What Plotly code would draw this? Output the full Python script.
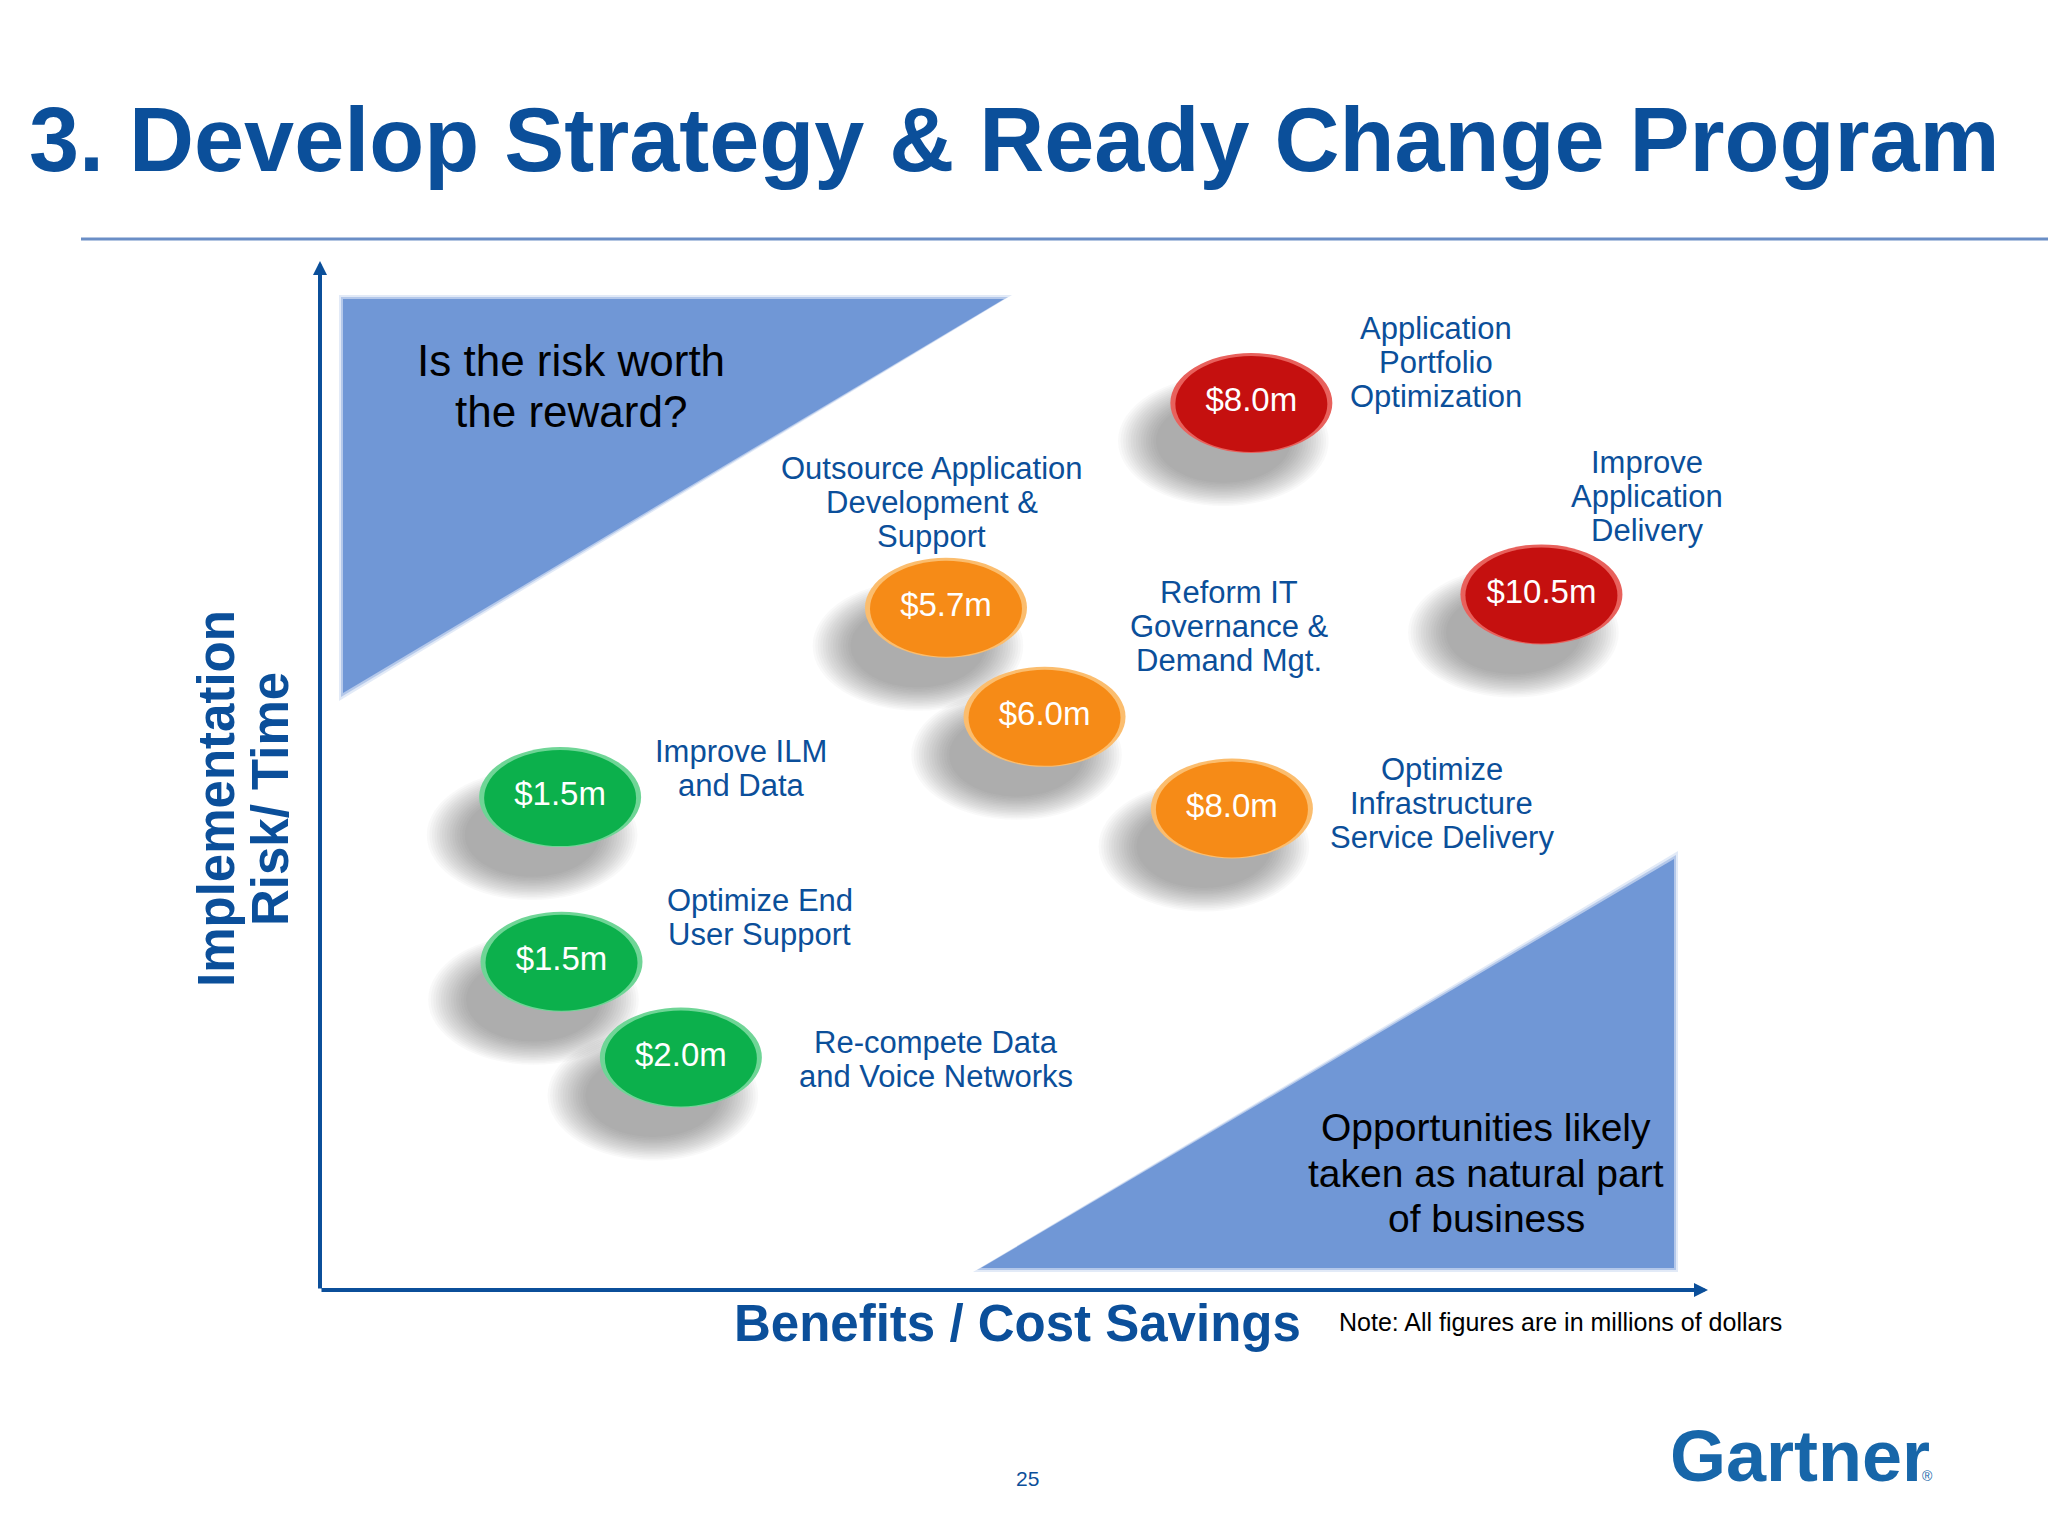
import plotly.graph_objects as go

# ---------------- data ----------------
initiatives = [
    "Application\nPortfolio\nOptimization",
    "Improve\nApplication\nDelivery",
    "Outsource Application\nDevelopment &\nSupport",
    "Reform IT\nGovernance &\nDemand Mgt.",
    "Optimize\nInfrastructure\nService Delivery",
    "Improve ILM\nand Data",
    "Optimize End\nUser Support",
    "Re-compete Data\nand Voice Networks",
]
savings_musd = [8.0, 10.5, 5.7, 6.0, 8.0, 1.5, 1.5, 2.0]
benefit_score = [6.71, 8.80, 4.51, 5.22, 6.57, 1.73, 1.74, 2.60]
risk_score = [8.62, 6.76, 6.63, 5.57, 4.68, 4.79, 3.19, 2.26]
risk_band = ["high", "high", "medium", "medium", "medium", "low", "low", "low"]

title_text = "3. Develop Strategy & Ready Change Program"
x_title = "Benefits / Cost Savings"
y_title_lines = ["Implementation", "Risk/ Time"]
note_text = "Note: All figures are in millions of dollars"
zone_top_text = ["Is the risk worth", "the reward?"]
zone_bottom_text = ["Opportunities likely", "taken as natural part", "of business"]
page_number = "25"
brand = "Gartner"

# ---------------- layout / style ----------------
W, H = 2048, 1536
L, R, T, B = 320, 1708, 261, 1290          # plot area (axis lines) in pixels
XMAX, YMAX = 10.0, 10.0
SX = (R - L) / XMAX
SY = (B - T) / YMAX
FONT = "Arial, 'Liberation Sans', sans-serif"
BLUE = "#0b4f9a"
ZONE = "#7097d6"

label_offset_px = [(185, -41), (106, -98), (-14, -105), (184, -90),
                   (210, -5), (181, -29), (198, -44), (255, 2)]
band_fill = {"high": "#c5100f", "medium": "#f68b17", "low": "#0cb04c"}
band_rim = {"high": "#e8615c", "medium": "#fbbd6e", "low": "#6fd596"}
RX, RY = 81, 50  # bubble half-size in px


def px2x(px):
    return (px - L) / SX


def py2y(py):
    return (B - py) / SY


def x2px(x):
    return L + x * SX


def y2py(y):
    return B - y * SY


def ppx(px):
    return (px - L) / (R - L)


def ppy(py):
    return (B - py) / (B - T)


fig = go.Figure()
shapes = []
annotations = []

# header rule
shapes.append(dict(type="line", xref="paper", yref="paper",
                   x0=ppx(81), x1=ppx(W), y0=ppy(239), y1=ppy(239),
                   line=dict(color="#6a8ec6", width=3), layer="below"))

# zone triangles (soft edge + body)
def tri(pts):
    return "M " + " L ".join(f"{px2x(a)},{py2y(b)}" for a, b in pts) + " Z"

for grow, op in [(4, 0.2), (2, 0.4), (0, 1.0)]:
    top = [(343 - grow, 299 - grow), (1004 + grow * 2, 299 - grow), (343 - grow, 693 + grow * 2)]
    bot = [(981 - grow * 2, 1268 + grow), (1674 + grow, 1268 + grow), (1674 + grow, 859 - grow * 2)]
    for pts in (top, bot):
        shapes.append(dict(type="path", xref="x", yref="y", path=tri(pts),
                           fillcolor=ZONE, opacity=op, line=dict(width=0), layer="below"))

# bubbles: soft shadows + body
NS = 16
for x, y, band in zip(benefit_score, risk_score, risk_band):
    cx, cy = x2px(x), y2py(y)
    sxo, syo = cx - 28, cy + 38
    for k in range(NS):
        f = 1.30 - k * (0.5 / NS)
        shapes.append(dict(type="circle", xref="x", yref="y",
                           x0=px2x(sxo - RX * f), x1=px2x(sxo + RX * f),
                           y0=py2y(syo + RY * f), y1=py2y(syo - RY * f),
                           fillcolor="rgba(60,60,60,0.03)", line=dict(width=0), layer="below"))
    shapes.append(dict(type="circle", xref="x", yref="y",
                       x0=px2x(cx - RX), x1=px2x(cx + RX),
                       y0=py2y(cy + RY), y1=py2y(cy - RY),
                       fillcolor=band_rim[band], line=dict(width=0), layer="below"))
    shapes.append(dict(type="circle", xref="x", yref="y",
                       x0=px2x(cx - RX + 5), x1=px2x(cx + RX - 5),
                       y0=py2y(cy + RY - 1), y1=py2y(cy - RY + 3),
                       fillcolor=band_fill[band], line=dict(width=0), layer="below"))

# value labels through the data scales
fig.add_trace(go.Scatter(
    x=benefit_score, y=risk_score, mode="text",
    text=[f"${v:.1f}m" for v in savings_musd],
    textposition="middle center",
    textfont=dict(family=FONT, size=33, color="white"),
    hoverinfo="skip", showlegend=False, cliponaxis=False,
))


def add_lines(lines, cx, cy, size, color, spacing, weight="normal", angle=0):
    n = len(lines)
    for i, line in enumerate(lines):
        off = (i - (n - 1) / 2) * spacing
        if angle == 0:
            px_, py_ = cx, cy + off
        else:
            px_, py_ = cx + off, cy
        annotations.append(dict(
            xref="paper", yref="paper", x=ppx(px_), y=ppy(py_),
            text=line, showarrow=False, xanchor="center", yanchor="middle",
            textangle=angle,
            font=dict(family=FONT, size=size, color=color, weight=weight)))


# initiative names
for name, x, y, (dx, dy) in zip(initiatives, benefit_score, risk_score, label_offset_px):
    add_lines(name.split("\n"), x2px(x) + dx, y2py(y) + dy, 31, BLUE, 34)

# zone texts
add_lines(zone_top_text, 571, 386, 44, "black", 50)
add_lines(zone_bottom_text, 1486, 1173, 39, "black", 45.5)

# title
add_lines([title_text], 1015, 140, 90, BLUE, 0, weight="bold")
# axis titles
add_lines([x_title], 1017, 1323, 51, BLUE, 0, weight="bold")
add_lines(y_title_lines, 243, 799, 51, BLUE, 54, weight="bold", angle=-90)
# note
add_lines([note_text], 1560, 1322, 25, "black", 0)
# page number
add_lines([page_number], 1027, 1478, 21, BLUE, 0)
# brand
add_lines([brand], 1800, 1456, 72, "#1766a9", 0, weight="bold")
add_lines(["®"], 1928, 1476, 14, "#1766a9", 0)

# axis arrows
for hx, hy in [(XMAX, 0), (0, YMAX)]:
    annotations.append(dict(xref="x", yref="y", axref="x", ayref="y",
                            x=hx, y=hy, ax=0, ay=0, text="", showarrow=True,
                            arrowhead=2, arrowsize=0.7, arrowwidth=4,
                            arrowcolor=BLUE, standoff=0, startstandoff=0))

fig.update_layout(
    width=W, height=H,
    margin=dict(l=L, r=W - R, t=T, b=H - B, pad=0),
    paper_bgcolor="white", plot_bgcolor="white",
    xaxis=dict(range=[0, XMAX], visible=False, fixedrange=True),
    yaxis=dict(range=[0, YMAX], visible=False, fixedrange=True),
    shapes=shapes, annotations=annotations, showlegend=False,
)

fig.write_html("out.html")
